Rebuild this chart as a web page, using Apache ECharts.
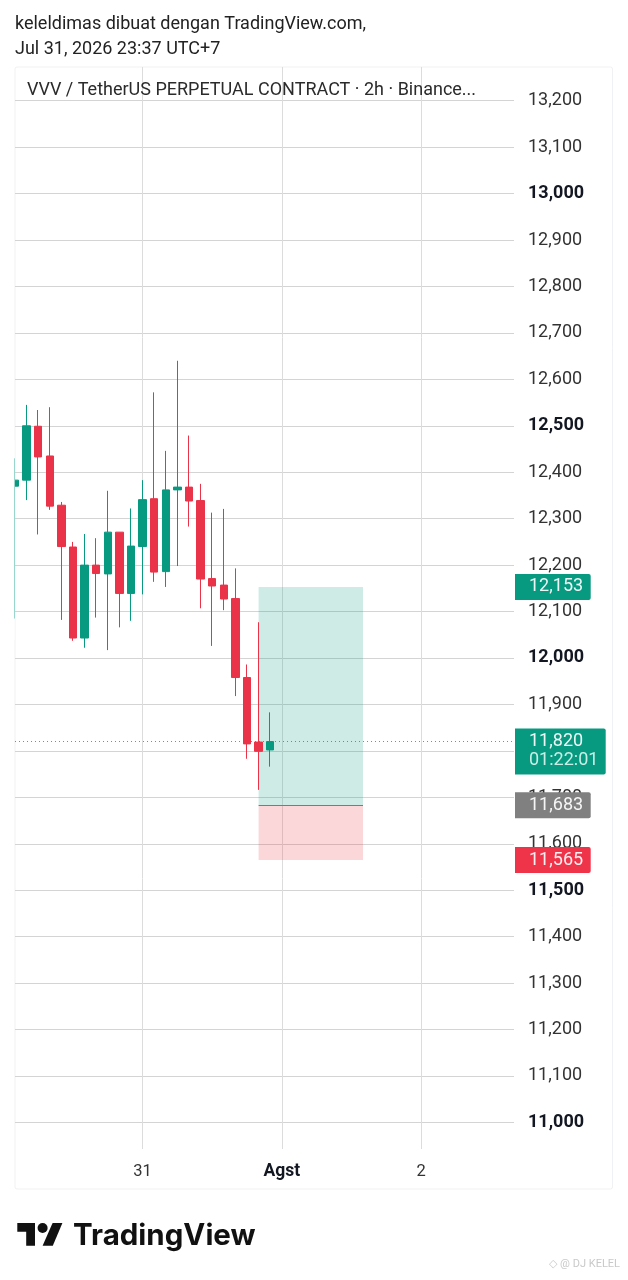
<!DOCTYPE html>
<html><head><meta charset="utf-8">
<style>html,body{margin:0;padding:0;background:#fff}#c{width:628px;height:1280px}</style>
<script src="https://cdn.jsdelivr.net/npm/echarts@6/dist/echarts.min.js"></script>
</head><body><div id="c"></div>
<script>
// Hours relative to 31 Jul 00:00 (2h candles)
const hours  = [-22,-20,-18,-16,-14,-12,-10,-8,-6,-4,-2,0,2,4,6,8,10,12,14,16,18,20,22];
const opens  = [12370,12383,12499,12435,12329,12239,12043,12200,12181,12271,12139,12240,12343,12186,12362,12368,12339,12171,12157,12128,11958,11819,11802];
const closes = [12383,12500,12433,12327,12240,12043,12200,12182,12271,12139,12241,12341,12185,12362,12368,12338,12170,12155,12127,11958,11815,11799,11820];
const lows   = [12085,12340,12266,12319,12082,12037,12022,12087,12017,12066,12080,12137,12164,12153,12198,12283,12107,12026,12103,11918,11783,11716,11766];
const highs  = [12430,12545,12534,12540,12336,12250,12267,12258,12360,12271,12322,12383,12572,12446,12640,12479,12375,12313,12321,12193,11986,12077,11883];

const priceTicks = [11000,11100,11200,11300,11400,11500,11600,11700,11800,11900,12000,12100,12200,12300,12400,12500,12600,12700,12800,12900,13000,13100,13200];
const boldTicks  = [11000,11500,12000,12500,13000];
const timeTicks  = [0,24,48];
const timeLabels = ['31','Agst','2'];

const currentPrice = 11820, targetPrice = 12153, entryPrice = 11683, stopPrice = 11565;
const boxStart = 20, boxEnd = 38;

const tagPrices = [targetPrice, currentPrice, entryPrice, stopPrice];
const tagTexts  = ['12,153','11,820','11,683','11,565'];
const tagSubs   = ['','01:22:01','',''];
const tagColors = ['#089981','#089981','#808080','#ef3349'];

const xMin = -22, xMax = 64.03, yMin = 10942.7, yMax = 13272.6;
const FONT = 'Roboto, sans-serif';
const fmt = v => v.toString().replace(/(\d)(\d{3})$/, '$1,$2');

const chart = echarts.init(document.getElementById('c'), null, {renderer:'canvas', width:628, height:1280});
chart.setOption({
  backgroundColor:'#fff',
  animation:false,
  title:[
    {text:'keleldimas dibuat dengan TradingView.com,', left:15, top:15, padding:0, textStyle:{fontFamily:FONT,fontSize:18,fontWeight:400,color:'#222'}},
    {text:'Jul 31, 2026 23:37 UTC+7', left:15, top:40, padding:0, textStyle:{fontFamily:FONT,fontSize:18,fontWeight:400,color:'#222'}},
    {text:'VVV / TetherUS PERPETUAL CONTRACT · 2h · Binance...', left:27, top:81, padding:0, textStyle:{fontFamily:FONT,fontSize:18,fontWeight:400,color:'#2b2b2b'}}
  ],
  grid:{left:15, right:114, top:67, bottom:131, containLabel:false},
  xAxis:{
    type:'value', min:xMin, max:xMax,
    axisLine:{show:false},
    axisTick:{show:false, customValues:timeTicks},
    splitLine:{show:true, lineStyle:{color:'#dcdcdc',width:1}},
    axisLabel:{
      customValues:timeTicks, margin:14, fontFamily:FONT, fontSize:16.5, color:'#333',
      formatter:v=>{const s=timeLabels[timeTicks.indexOf(v)]; return s==='Agst'?'{b|'+s+'}':s;},
      rich:{b:{fontFamily:FONT,fontSize:17.5,fontWeight:700,color:'#131722'}}
    }
  },
  yAxis:{
    type:'value', min:yMin, max:yMax, position:'right',
    axisLine:{show:false},
    axisTick:{show:false, customValues:priceTicks},
    splitLine:{show:true, lineStyle:{color:'#d4d4d4',width:1}},
    axisLabel:{
      customValues:priceTicks, inside:false, margin:14, align:'left', fontFamily:FONT, fontSize:18, color:'#333',
      formatter:v=>boldTicks.includes(v)?'{b|'+fmt(v)+'}':fmt(v),
      rich:{b:{fontFamily:FONT,fontSize:18,fontWeight:700,color:'#131722'}}
    }
  },
  series:[
    {
      type:'candlestick', barWidth:8, z:3,
      encode:{x:0,y:[1,2,3,4]},
      data:hours.map((h,i)=>[h,opens[i],closes[i],lows[i],highs[i]]),
      itemStyle:{color:'#089981',color0:'#ea3349',borderColor:'#089981',borderColor0:'#ea3349',borderWidth:1},
      markArea:{silent:true,z:1,data:[
        [{coord:[boxStart,targetPrice],itemStyle:{color:'rgba(8,153,129,0.2)'}},{coord:[boxEnd,entryPrice]}],
        [{coord:[boxStart,entryPrice],itemStyle:{color:'rgba(242,54,69,0.2)'}},{coord:[boxEnd,stopPrice]}]
      ]},
      markLine:{silent:true,symbol:'none',label:{show:false},data:[
        [{coord:[xMin,currentPrice],lineStyle:{color:'#089981',type:[1,3],width:1,opacity:.8}},{coord:[xMax,currentPrice]}],
        [{coord:[boxStart,entryPrice],lineStyle:{color:'#787b86',type:'solid',width:1}},{coord:[boxEnd,entryPrice]}]
      ]}
    },
    {
      type:'custom', z:10, silent:true, clip:false,
      encode:{x:0,y:1},
      data:tagPrices.map(p=>[xMax,p]),
      renderItem:(params,api)=>{
        const i=params.dataIndex, pt=api.coord([xMax,api.value(1)]), x=515, y=pt[1], two=!!tagSubs[i];
        const kids=[{type:'rect',shape:{x:x,y:y-13,width:two?90.7:75.7,height:two?46:26,r:[0,2,2,0]},style:{fill:tagColors[i]}},
          {type:'text',style:{x:x+14,y:y,text:tagTexts[i],fill:'#fff',font:'18px '+FONT,textAlign:'left',textVerticalAlign:'middle',opacity:.92}}];
        if(two)kids.push({type:'text',style:{x:x+14,y:y+19,text:tagSubs[i],fill:'#c8efe6',font:'18px '+FONT,textAlign:'left',textVerticalAlign:'middle'}});
        return {type:'group',children:kids};
      }
    }
  ],
  graphic:[
    {type:'rect',z:100,silent:true,shape:{x:0,y:440,width:14.6,height:200},style:{fill:'#fff'}},
    {type:'rect',z:-1,silent:true,shape:{x:15,y:67,width:597.5,height:1122,r:2},style:{fill:'none',stroke:'#f0f1f3',lineWidth:1}},
    {type:'polygon',silent:true,shape:{points:[[17.3,1223],[35,1223],[35,1245.7],[26.2,1245.7],[26.2,1231.8],[17.3,1231.8]]},style:{fill:'#111'}},
    {type:'polygon',silent:true,shape:{points:[[52.6,1223],[62.4,1223],[52.8,1245.7],[42.6,1245.7]]},style:{fill:'#111'}},
    {type:'circle',silent:true,shape:{cx:42.6,cy:1228,r:5},style:{fill:'#111'}},
    {type:'text',silent:true,style:{x:73,y:1236,text:'TradingView',font:'700 29.5px Inter, sans-serif',fill:'#111',textVerticalAlign:'middle'}},
    {type:'text',silent:true,style:{x:620,y:1264,text:'◇ @ DJ KELEL',font:'11px Roboto, sans-serif',fill:'#c9c9c9',textAlign:'right',textVerticalAlign:'middle'}}
  ]
});
</script></body></html>
